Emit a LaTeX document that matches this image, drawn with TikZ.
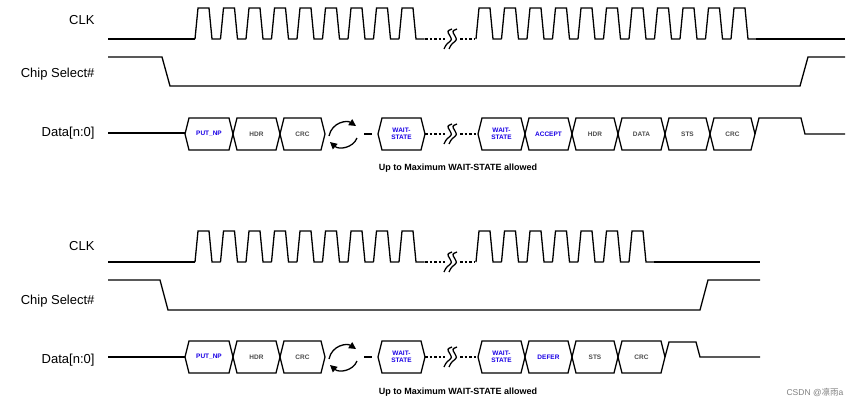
\documentclass[tikz,border=0pt]{standalone}
\usepackage{fontspec}
\setmainfont{Liberation Sans}
\newfontfamily\cjk{Noto Sans CJK SC}
\usetikzlibrary{positioning,calc,arrows.meta}

% one hexagonal data cell: left x, right x, mid y, name, colour, text
\newcommand{\datacell}[6]{%
  \draw[wave] (#1,#3) -- (#1+4,#3-16) -- (#2-4,#3-16) -- (#2,#3) -- (#2-4,#3+16) -- (#1+4,#3+16) -- cycle;
  \node[cell, text=#5] (#4) at ({(#1+#2)/2},#3) {#6};}
% clock burst: start x, low y, number of pulses
\newcommand{\clkburst}[3]{%
  \foreach \i in {1,...,#3} {
    \draw[wave] ({#1+(\i-1)*25.5},#2) -- ({#1+(\i-1)*25.5+3},#2-31) -- ({#1+(\i-1)*25.5+14},#2-31)
      -- ({#1+(\i-1)*25.5+17},#2) -- ({#1+\i*25.5},#2);}}
% break mark at x, y
\newcommand{\brk}[2]{%
  \draw[wave] (#1-6,#2+10) .. controls (#1-2,#2) and (#1+4,#2+4) .. (#1,#2-3) .. controls (#1-3,#2-8) .. (#1+2,#2-10);
  \draw[wave] (#1-1,#2+10) .. controls (#1+3,#2) and (#1+9,#2+4) .. (#1+5,#2-3) .. controls (#1+2,#2-8) .. (#1+7,#2-10);}
% swap arrows at x, y
\newcommand{\swap}[2]{%
  \draw[wave, -{Triangle[length=7pt,width=7pt]}] (#1,#2+2) .. controls (#1+3,#2-12) and (#1+18,#2-14) .. (#1+27,#2-8);
  \draw[wave, -{Triangle[length=7pt,width=7pt]}] (#1+28,#2+4) .. controls (#1+24,#2+14) and (#1+10,#2+16) .. (#1+1,#2+8);}

\begin{document}
\begin{tikzpicture}[x=1pt, y=-1pt,
    wave/.style={line width=1.3pt, black},
    dots/.style={line width=1.3pt, dash pattern=on 2.5pt off 2pt},
    cell/.style={font=\fontsize{6.5}{7}\selectfont\bfseries, align=center, inner sep=0pt},
    sig/.style={font=\fontsize{13}{15}\selectfont, anchor=east},
    note/.style={font=\fontsize{9}{11}\selectfont\bfseries}
]
\useasboundingbox (0,0) rectangle (865,407);

%%% upper diagram
\node[sig] (clkA) at (98,20) {CLK};
\node[sig] (csA) at (98,74) {Chip Select\#};
\node[sig] (datA) at (98,133) {Data[n:0]};

\draw[wave] (108,39) -- (195,39);
\clkburst{195}{39}{9}
\draw[dots] (425,39) -- (445,39);
\brk{450}{39}
\draw[dots] (460,39) -- (475,39);
\clkburst{476}{39}{11}
\draw[wave] (756,39) -- (845,39);

\draw[wave] (108,57) -- (162,57) -- (170,86) -- (800,86) -- (808,57) -- (845,57);

\draw[wave] (108,133) -- (185,133);
\datacell{185}{233}{134}{putA}{blue!80!violet}{PUT\_NP}
\datacell{233}{280}{134}{hdrA}{black!70}{HDR}
\datacell{280}{325}{134}{crcA}{black!70}{CRC}
\swap{329}{134}
\draw[wave] (364,134) -- (372,134);
\datacell{378}{425}{134}{waitA}{blue!80!violet}{WAIT-\\STATE}
\draw[dots] (425,134) -- (445,134);
\brk{450}{134}
\draw[dots] (460,134) -- (478,134);
\datacell{478}{525}{134}{waitB}{blue!80!violet}{WAIT-\\STATE}
\datacell{525}{572}{134}{accA}{blue!80!violet}{ACCEPT}
\datacell{572}{618}{134}{hdrB}{black!70}{HDR}
\datacell{618}{665}{134}{dataA}{black!70}{DATA}
\datacell{665}{710}{134}{stsA}{black!70}{STS}
\datacell{710}{755}{134}{crcB}{black!70}{CRC}
\draw[wave] (755,134) -- (759,118) -- (801,118) -- (805,134) -- (845,134);
\node[note] (upA) at (458,168) {Up to Maximum WAIT-STATE allowed};

%%% lower diagram
\node[sig] (clkB) at (98,246) {CLK};
\node[sig] (csB) at (98,301) {Chip Select\#};
\node[sig] (datB) at (98,360) {Data[n:0]};

\draw[wave] (108,262) -- (195,262);
\clkburst{195}{262}{9}
\draw[dots] (425,262) -- (445,262);
\brk{450}{262}
\draw[dots] (460,262) -- (475,262);
\clkburst{476}{262}{7}
\draw[wave] (654,262) -- (760,262);

\draw[wave] (108,280) -- (160,280) -- (168,310) -- (700,310) -- (708,280) -- (760,280);

\draw[wave] (108,357) -- (185,357);
\datacell{185}{233}{357}{putB}{blue!80!violet}{PUT\_NP}
\datacell{233}{280}{357}{hdrC}{black!70}{HDR}
\datacell{280}{325}{357}{crcC}{black!70}{CRC}
\swap{329}{357}
\draw[wave] (364,357) -- (372,357);
\datacell{378}{425}{357}{waitC}{blue!80!violet}{WAIT-\\STATE}
\draw[dots] (425,357) -- (445,357);
\brk{450}{357}
\draw[dots] (460,357) -- (478,357);
\datacell{478}{525}{357}{waitD}{blue!80!violet}{WAIT-\\STATE}
\datacell{525}{572}{357}{defB}{blue!80!violet}{DEFER}
\datacell{572}{618}{357}{stsB}{black!70}{STS}
\datacell{618}{665}{357}{crcD}{black!70}{CRC}
\draw[wave] (665,357) -- (669,342) -- (696,342) -- (700,357) -- (760,357);
\node[note] (upB) at (458,392) {Up to Maximum WAIT-STATE allowed};

\node[font=\fontsize{8.5}{10}\selectfont, text=black!50] (mark) at (815,392) {CSDN @{\cjk 凛雨}a};
\end{tikzpicture}
\end{document}
